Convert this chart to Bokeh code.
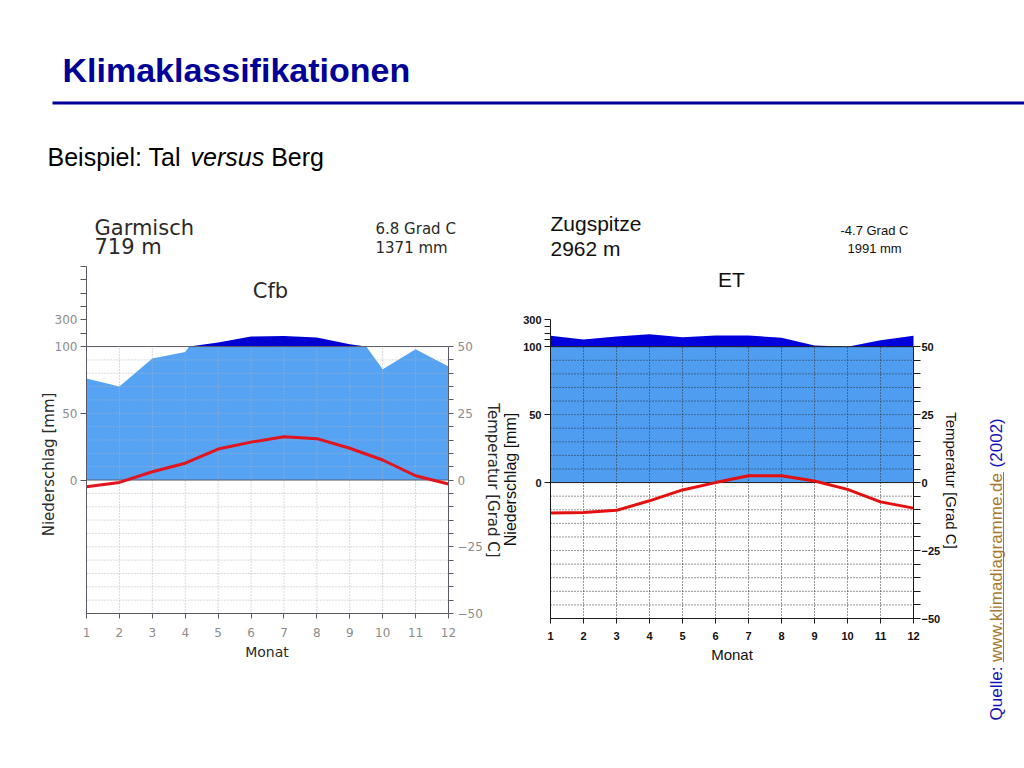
import math
from bokeh.plotting import figure
from bokeh.models import Range1d, LinearAxis, FixedTicker, Label, BoxAnnotation
from bokeh.embed import file_html
from bokeh.resources import INLINE

# ---------------- data ----------------
months = [1, 2, 3, 4, 5, 6, 7, 8, 9, 10, 11, 12]

garmisch_precip = [76, 70, 91, 96, 130, 175, 180, 168, 117, 83, 98, 85]          # mm
garmisch_temp = [-2.5, -0.9, 3.1, 6.3, 11.6, 14.2, 16.2, 15.5, 11.9, 7.5, 1.6, -1.5]  # deg C

zugspitze_precip = [180, 152, 175, 192, 170, 182, 182, 166, 108, 100, 148, 180]  # mm
zugspitze_temp = [-11.2, -11.0, -10.2, -6.7, -2.7, 0.0, 2.5, 2.5, 0.6, -2.5, -7.1, -9.4]

precip_ticks = [0, 50, 100]
garmisch_upper_ticks = [200, 300, 400, 500, 600, 700]
zugspitze_upper_ticks = [150, 200, 250, 300]
upper_labelled = [300]
temp_ticks = [-50, -25, 0, 25, 50]
temp_minor = [-45, -40, -35, -30, -20, -15, -10, -5, 5, 10, 15, 20, 30, 35, 40, 45]
temp_grid = [-45, -40, -35, -30, -25, -20, -15, -10, -5, 5, 10, 15, 20, 25, 30, 35, 40, 45]

W, H = 1024, 768


def compress(v):
    """Walter/Lieth scale: above 100 mm the precipitation axis is compressed 1:10."""
    return v if v <= 100 else 100 + (v - 100) / 10.0


def with_crossings(xs, vs, cap=100):
    """Insert the points where the precipitation polyline crosses the 100 mm line."""
    ox, ov = [], []
    for i in range(len(xs)):
        if i > 0:
            a, b = vs[i - 1], vs[i]
            if (a - cap) * (b - cap) < 0:
                t = (cap - a) / (b - a)
                ox.append(xs[i - 1] + t * (xs[i] - xs[i - 1]))
                ov.append(cap)
        ox.append(xs[i])
        ov.append(vs[i])
    return ox, ov


def ranges_for(px_first, px_last, py_low, py_high, low_val, high_val):
    """Ranges so that month 1..12 and display -100..top land on the given page pixels."""
    ax = (px_last - px_first) / (months[-1] - months[0])
    xr = Range1d(months[0] - px_first / ax, months[0] + (W - px_first) / ax)
    by = (py_low - py_high) / (high_val - low_val)
    top = high_val + py_high / by
    yr = Range1d(top - H / by, top)
    tr = Range1d((top - H / by) / 2.0, top / 2.0)
    return xr, yr, tr


lxr, lyr, ltr = ranges_for(86, 448, 613, 266, -100, compress(garmisch_upper_ticks[-1]))
rxr, ryr, rtr = ranges_for(550, 913, 618, 319, -100, compress(zugspitze_upper_ticks[-1]))

p = figure(width=W, height=H, x_range=lxr, y_range=lyr, output_backend="svg",
           toolbar_location=None, min_border=0, x_axis_location=None, y_axis_location=None)
p.outline_line_color = None
p.grid.visible = False
p.background_fill_color = "white"
p.border_fill_color = "white"
p.extra_x_ranges = {"rx": rxr, "px": Range1d(0, W)}
p.extra_y_ranges = {"lt": ltr, "ry": ryr, "rt": rtr, "py": Range1d(H, 0)}


def chart(precip, temp, upper_ticks, xn, yn, tn, st):
    top = compress(upper_ticks[-1])
    xs, vs = with_crossings(months, precip)
    low = [min(v, 100) for v in vs]
    high = [max(compress(v), 100) for v in vs]
    kw = dict(x_range_name=xn, y_range_name=yn)
    p.varea(x=xs, y1=0, y2=low, fill_color=st["light"], **kw)
    p.varea(x=xs, y1=100, y2=high, fill_color=st["dark"], **kw)
    # dotted grid
    p.segment(x0=months, y0=-100, x1=months, y1=100, line_color=st["grid"],
              line_dash="1 2", line_width=1, **kw)
    p.segment(x0=months[0], x1=months[-1], y0=temp_grid, y1=temp_grid, x_range_name=xn,
              y_range_name=tn, line_color=st["grid"], line_dash="1 2", line_width=1)
    # 0 mm and 100 mm lines
    p.segment(x0=months[0], x1=months[-1], y0=[0, 100], y1=[0, 100],
              line_color=st["axis"], line_width=1, **kw)
    # temperature
    p.line(months, temp, line_color=st["red"], line_width=3, x_range_name=xn, y_range_name=tn)

    ticks = precip_ticks + [compress(t) for t in upper_ticks]
    overrides = {}
    for t in upper_ticks:
        overrides[compress(t)] = str(t) if t in upper_labelled else ""
    yl = LinearAxis(ticker=FixedTicker(ticks=ticks), major_label_overrides=overrides,
                    bounds=(-100, top), fixed_location=months[0], x_range_name=xn, y_range_name=yn)
    yr = LinearAxis(ticker=FixedTicker(ticks=temp_ticks, minor_ticks=temp_minor),
                    bounds=(-50, 50), fixed_location=months[-1], x_range_name=xn, y_range_name=tn)
    xb = LinearAxis(ticker=FixedTicker(ticks=months), bounds=(months[0], months[-1]),
                    fixed_location=-100, x_range_name=xn, y_range_name=yn)
    for a in (yl, yr, xb):
        a.axis_line_color = st["axis"]
        a.major_tick_line_color = st["axis"]
        a.minor_tick_line_color = st["axis"]
        a.major_tick_in = 0
        a.minor_tick_in = 0
        a.major_label_text_font = st["font"]
        a.major_label_text_font_size = st["tick_size"]
        a.major_label_text_color = st["tick_color"]
        a.major_label_text_font_style = st["tick_style"]
    yl.major_tick_out = 6
    yl.minor_tick_out = 0
    yl.major_label_standoff = 3
    yr.major_tick_out = st["rtick"]
    yr.minor_tick_out = st["rtick"]
    yr.major_label_standoff = st["rstand"]
    xb.major_tick_out = 5
    xb.minor_tick_out = 0
    xb.major_label_standoff = st["bstand"]
    p.add_layout(yl, "left")
    p.add_layout(yr, "right")
    p.add_layout(xb, "below")


left_style = dict(light="#56A2F3", dark="#0000D2", grid="#AEB4BE", axis="#5A5A66",
                  red="#E2141E", font="DejaVu Sans", tick_size="12px", tick_color="#8C8C8C",
                  tick_style="normal", rtick=5, rstand=4, bstand=9)
right_style = dict(light="#4E9DF1", dark="#0000DC", grid="#303030", axis="#1A1A1A",
                   red="#E40F0F", font="Liberation Sans", tick_size="11px", tick_color="#111111",
                   tick_style="bold", rtick=7, rstand=1, bstand=8)

chart(garmisch_precip, garmisch_temp, garmisch_upper_ticks, "default", "default", "lt", left_style)
chart(zugspitze_precip, zugspitze_temp, zugspitze_upper_ticks, "rx", "ry", "rt", right_style)


def lab(x, y, text, font, size, color="#222222", align="left", angle=0.0, style="normal"):
    # y (or x for rotated text) is the vertical centre of the text line
    p.add_layout(Label(x=x, y=y, x_range_name="px", y_range_name="py", text=text,
                       text_font=font, text_font_size=size, text_color=color,
                       text_align=align, text_baseline="middle", angle=angle,
                       text_font_style=style))


SANS = "Liberation Sans"
# slide header
lab(62, 69.5, "Klimaklassifikationen", SANS, "34px", "#000099", style="bold")
p.add_layout(BoxAnnotation(left=52, right=W, top=101, bottom=104, x_range_name="px",
                           y_range_name="py", fill_color="#000099", fill_alpha=1.0,
                           line_color=None))
fs = 25
em = {"Beispiel: Tal ": 5.724, "versus ": 3.223}
x0 = 47.0
lab(x0, 156.5, "Beispiel: Tal", SANS, "%gpx" % fs, "#000000")
x1 = x0 + em["Beispiel: Tal "] * fs
lab(x1, 156.5, "versus", SANS, "%gpx" % fs, "#000000", style="italic")
x2 = x1 + em["versus "] * fs
lab(x2, 156.5, "Berg", SANS, "%gpx" % fs, "#000000")

# Garmisch chart texts
LF = "DejaVu Sans"
lab(94, 227.5, "Garmisch", LF, "21px", "#2A2A2A")
lab(94, 246.5, "719  m", LF, "21px", "#2A2A2A")
lab(375, 228, "6.8 Grad C", LF, "15px", "#2A2A2A")
lab(375, 247.5, "1371 mm", LF, "15px", "#2A2A2A")
lab(270, 290, "Cfb", LF, "21px", "#2A2A2A", align="center")
lab(48.5, 464, "Niederschlag [mm]", LF, "15px", "#2A2A2A", align="center", angle=math.pi / 2)
lab(492, 480, "Temperatur [Grad C]", LF, "15px", "#2A2A2A", align="center", angle=-math.pi / 2)
lab(266.5, 651.5, "Monat", LF, "14px", "#2A2A2A", align="center")

# Zugspitze chart texts
lab(550, 223.3, "Zugspitze", SANS, "21px", "#111111")
lab(550, 248.3, "2962  m", SANS, "21px", "#111111")
lab(840, 230, "-4.7 Grad C", SANS, "13px", "#111111")
lab(847, 247.5, "1991 mm", SANS, "13px", "#111111")
lab(731, 279, "ET", SANS, "21px", "#111111", align="center")
lab(510, 479, "Niederschlag [mm]", SANS, "16px", "#111111", align="center", angle=math.pi / 2)
lab(951, 480, "Temperatur [Grad C]", SANS, "15px", "#111111", align="center", angle=-math.pi / 2)
lab(731.5, 653.5, "Monat", SANS, "15px", "#111111", align="center")

# source note, vertical (reads bottom to top)
qs = 17
qx = 995.5
q_em = {"Quelle: ": 3.446, "www.klimadiagramme.de": 11.165, " ": 0.278}
qy0 = 720.0
lab(qx, qy0, "Quelle:", SANS, "%dpx" % qs, "#1515B5", angle=math.pi / 2)
qy1 = qy0 - q_em["Quelle: "] * qs
lab(qx, qy1, "www.klimadiagramme.de", SANS, "%dpx" % qs, "#A8782E", angle=math.pi / 2)
qy2 = qy1 - q_em["www.klimadiagramme.de"] * qs
p.segment(x0=1003, x1=1003, y0=qy1, y1=qy2, x_range_name="px", y_range_name="py",
          line_color="#A8782E", line_width=1)
lab(qx, qy2 - q_em[" "] * qs, "(2002)", SANS, "%dpx" % qs, "#1515B5", angle=math.pi / 2)

with open("out.html", "w") as f:
    f.write(file_html(p, INLINE, title="Klimaklassifikationen"))
